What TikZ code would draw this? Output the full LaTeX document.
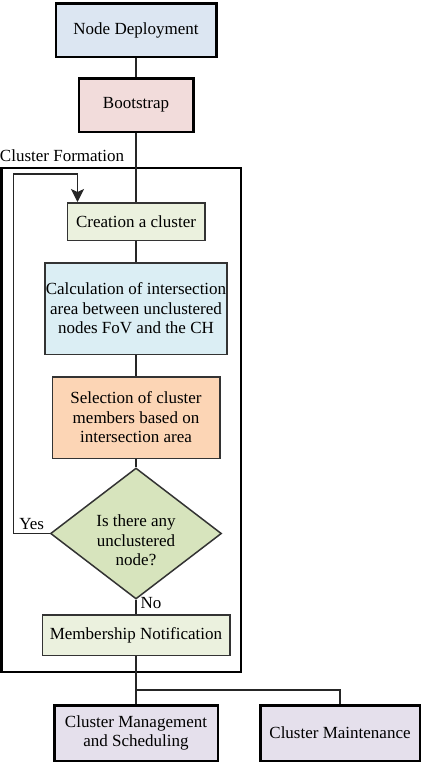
\documentclass[tikz,border=0pt]{standalone}
\usepackage{fontspec}
\setmainfont{Liberation Serif}
\usepackage{xcolor}
\usetikzlibrary{positioning, arrows.meta, shapes.geometric}
\definecolor{deploy}{HTML}{DCE6F2}
\definecolor{boot}{HTML}{F2DCDB}
\definecolor{step}{HTML}{EBF1DE}
\definecolor{calc}{HTML}{DBEEF4}
\definecolor{select}{HTML}{FCD5B5}
\definecolor{decide}{HTML}{D7E4BD}
\definecolor{manage}{HTML}{E5E0EC}
\tikzset{
	align=center,
	every node/.style={font=\fontsize{17}{19.5}\selectfont},
	bigbox/.style={draw=black, line width=2.5pt, inner sep=1pt},
	smallbox/.style={draw=black!80, line width=1.5pt, inner sep=1pt},
	decision/.style={diamond, draw=black!80, line width=1.5pt, fill=decide, inner sep=-15pt, aspect=1.3},
	frame/.style={draw=black, line width=2.5pt},
	link/.style={draw=black!85, line width=1.3pt},
	looparrow/.style={-{Stealth[length=13pt, width=13pt, inset=3pt]}}
}

\begin{document}
\begin{tikzpicture}[x=1pt, y=1pt]
	\useasboundingbox (0,0) rectangle (429,-763);
	
	\node[bigbox, fill=deploy, minimum width=160.5pt, minimum height=53.5pt] (deploy) at (136,-30) {Node Deployment};
	\node[bigbox, fill=boot, minimum width=114.5pt, minimum height=53.5pt, below of=deploy, node distance=75pt] (boot) {Bootstrap};
	
	\node[frame, minimum width=239.5pt, minimum height=504pt] (form) at (121.25,-420) {};
	\node[anchor=south west, inner sep=1pt] (formlabel) at ([xshift=-1.5pt, yshift=4pt]form.north west) {Cluster Formation};
	
	\node[smallbox, fill=step, minimum width=137.5pt, minimum height=37.5pt, below of=boot, node distance=116.5pt] (create) {Creation a cluster};
	\node[smallbox, fill=calc, minimum width=180.5pt, minimum height=91.5pt, below of=create, node distance=87pt] (area) {Calculation of intersection\\area between unclustered\\nodes FoV and the CH};
	\node[smallbox, fill=select, minimum width=167.5pt, minimum height=81.5pt, below of=area, node distance=109pt] (members) {Selection of cluster\\members based on\\intersection area};
	\node[decision, minimum width=171pt, minimum height=131pt, below of=members, node distance=116pt] (dec) {\\[6pt]Is there any\\unclustered\\node?};
	\node[smallbox, fill=step, minimum width=187.5pt, minimum height=40.5pt, below of=dec, node distance=101.5pt] (notify) {Membership Notification};
	
	\node[bigbox, fill=manage, minimum width=163.5pt, minimum height=55.5pt, below of=notify, node distance=98pt] (manage) {Cluster Management\\and Scheduling};
	\node[bigbox, fill=manage, minimum width=159.5pt, minimum height=55.5pt, right of=manage, node distance=204pt] (maint) {Cluster Maintenance};
	
	\coordinate (looptop) at (13.5,-174);
	\coordinate[below of=notify, node distance=55pt] (split);
	
	\draw[link] (deploy) -- (boot);
	\draw[link] (boot) -- (create);
	\draw[link] (create) -- (area);
	\draw[link] (area) -- (members);
	\draw[link] (members) -- (dec);
	\draw[link] (dec.south) -- node[right, pos=0.2, inner sep=4pt]{No} (notify.north);
	\draw[link, looparrow] (dec.west) -| node[above, pos=0.25, inner sep=3pt]{Yes} (looptop) -| ([xshift=11pt]create.north west);
	\draw[link] (notify) -- (manage);
	\draw[link] (split) -| (maint);
\end{tikzpicture}
\end{document}
